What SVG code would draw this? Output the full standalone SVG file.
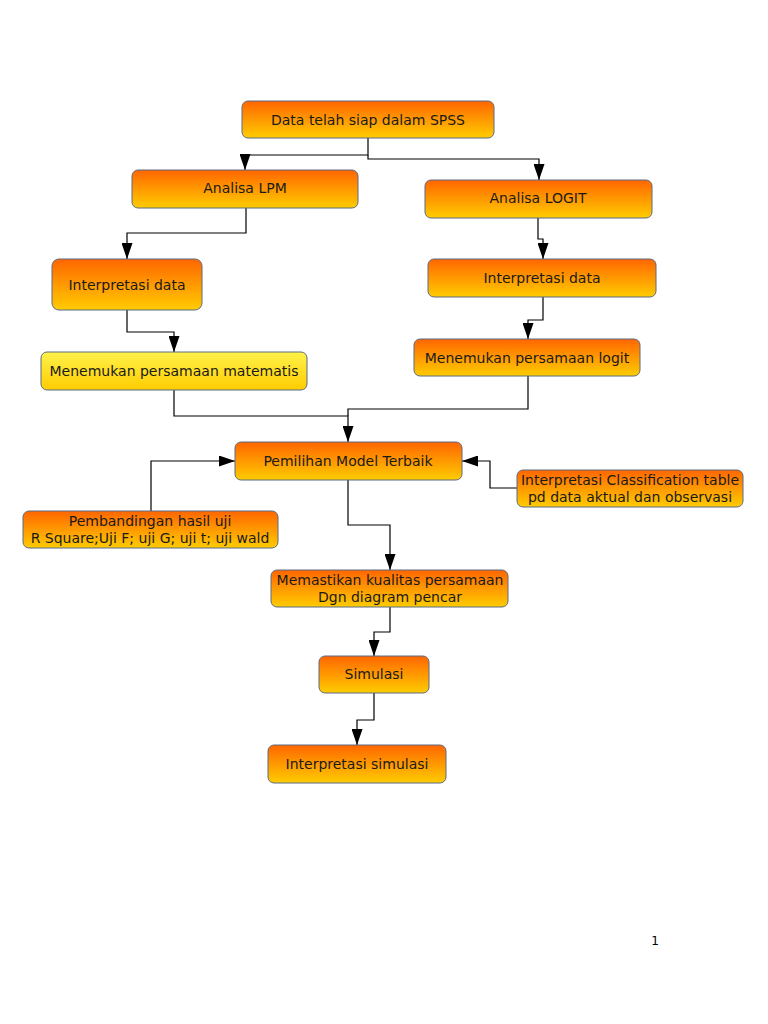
<svg xmlns="http://www.w3.org/2000/svg" width="768" height="1024" viewBox="0 0 768 1024">
<style>
.b{fill:url(#og);stroke:#5b6b84;stroke-width:1}
.y{fill:url(#yg);stroke:#5b6b84;stroke-width:1}
.t{font-family:"DejaVu Sans",Verdana,sans-serif;font-size:14px;fill:#1a1a1a;text-anchor:middle}
.c{fill:none;stroke:#000;stroke-width:1.2}
</style>
<defs>
<linearGradient id="og" x1="0" y1="0" x2="0" y2="1">
<stop offset="0" stop-color="#ff6600"/>
<stop offset="1" stop-color="#ffcc00"/>
</linearGradient>
<linearGradient id="yg" x1="0" y1="0" x2="0" y2="1">
<stop offset="0" stop-color="#fff24a"/>
<stop offset="1" stop-color="#ffcc00"/>
</linearGradient>
<marker id="ar" markerUnits="userSpaceOnUse" markerWidth="16" markerHeight="11" refX="16" refY="5.5" orient="auto" viewBox="0 0 16 11">
<path d="M0,0 L16,5.5 L0,11 Z" fill="#000"/>
</marker>
</defs>
<rect width="768" height="1024" fill="#fff"/>
<g id="connectors">
<path class="c" d="M368,138 V155 H245 V170" marker-end="url(#ar)"/>
<path class="c" d="M368,155 V159 H539 V180" marker-end="url(#ar)"/>
<path class="c" d="M246,208 V233 H127 V259" marker-end="url(#ar)"/>
<path class="c" d="M538,218 V239 H543 V259" marker-end="url(#ar)"/>
<path class="c" d="M127,310 V332 H174 V352" marker-end="url(#ar)"/>
<path class="c" d="M543,297 V320 H528 V339" marker-end="url(#ar)"/>
<path class="c" d="M174,390 V416 H348 V442" marker-end="url(#ar)"/>
<path class="c" d="M528,376 V409 H348 V416"/>
<path class="c" d="M151,511 V461 H235" marker-end="url(#ar)"/>
<path class="c" d="M517,488 H490 V461 H462" marker-end="url(#ar)"/>
<path class="c" d="M348,480 V525 H390 V570" marker-end="url(#ar)"/>
<path class="c" d="M390,607 V632 H374 V656" marker-end="url(#ar)"/>
<path class="c" d="M374,693 V720 H357 V745" marker-end="url(#ar)"/>
</g>
<g id="n1"><rect class="b" x="242" y="101" width="252" height="37" rx="6"/><text class="t" x="368" y="125">Data telah siap dalam SPSS</text></g>
<g id="n2"><rect class="b" x="132" y="170" width="226" height="38" rx="6"/><text class="t" x="245" y="193">Analisa LPM</text></g>
<g id="n3"><rect class="b" x="425" y="180" width="227" height="38" rx="6"/><text class="t" x="538" y="203">Analisa LOGIT</text></g>
<g id="n4"><rect class="b" x="52" y="259" width="150" height="51" rx="7"/><text class="t" x="127" y="290">Interpretasi data</text></g>
<g id="n5"><rect class="b" x="428" y="259" width="228" height="38" rx="6"/><text class="t" x="542" y="283">Interpretasi data</text></g>
<g id="n6"><rect class="y" x="41" y="352" width="266" height="38" rx="6"/><text class="t" x="174" y="376">Menemukan persamaan matematis</text></g>
<g id="n7"><rect class="b" x="414" y="339" width="226" height="37" rx="6"/><text class="t" x="527" y="363">Menemukan persamaan logit</text></g>
<g id="n8"><rect class="b" x="235" y="442" width="227" height="38" rx="6"/><text class="t" x="348" y="466">Pemilihan Model Terbaik</text></g>
<g id="n9"><rect class="b" x="517" y="470" width="226" height="37" rx="6"/><text class="t" x="630" y="485">Interpretasi Classification table</text><text class="t" x="630" y="502">pd data aktual dan observasi</text></g>
<g id="n10"><rect class="b" x="23" y="511" width="255" height="37" rx="6"/><text class="t" x="150" y="526">Pembandingan hasil uji</text><text class="t" x="150" y="543">R Square;Uji F; uji G; uji t; uji wald</text></g>
<g id="n11"><rect class="b" x="271" y="570" width="237" height="37" rx="6"/><text class="t" x="390" y="585">Memastikan kualitas persamaan</text><text class="t" x="390" y="602">Dgn diagram pencar</text></g>
<g id="n12"><rect class="b" x="319" y="656" width="110" height="37" rx="6"/><text class="t" x="374" y="679">Simulasi</text></g>
<g id="n13"><rect class="b" x="268" y="745" width="178" height="38" rx="6"/><text class="t" x="357" y="769">Interpretasi simulasi</text></g>
<text x="655" y="945" style="font-family:'DejaVu Sans',sans-serif;font-size:12px;fill:#000;text-anchor:middle">1</text>
</svg>
